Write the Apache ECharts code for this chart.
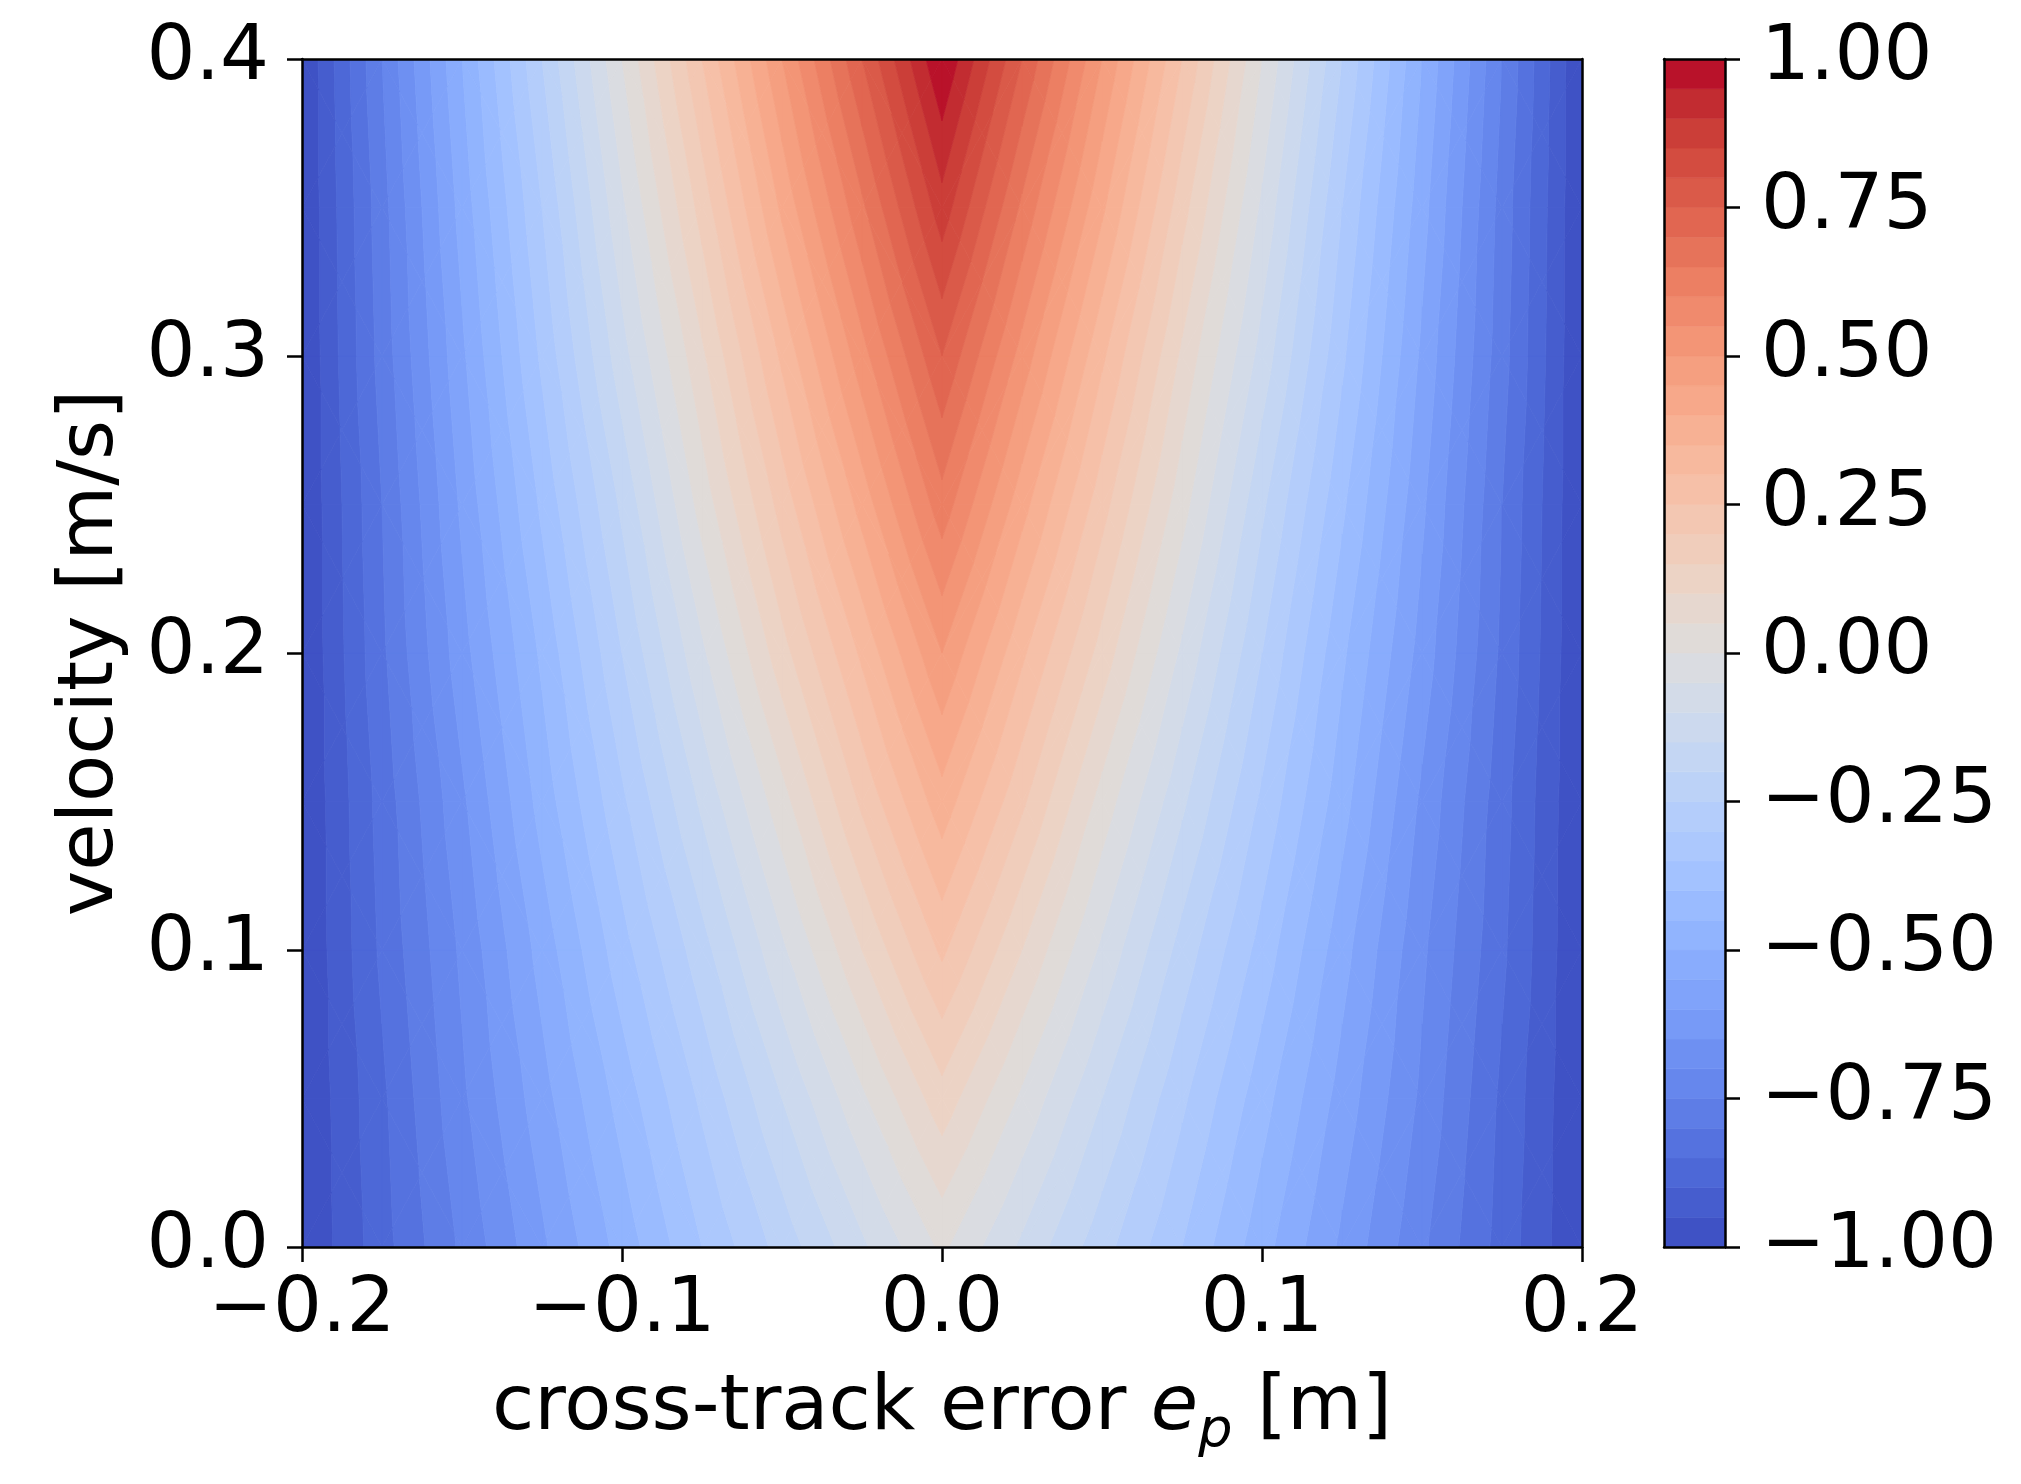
<!DOCTYPE html>
<html><head><meta charset="utf-8">
<script src="https://cdn.jsdelivr.net/npm/echarts@6/dist/echarts.min.js"></script>
<style>html,body{margin:0;padding:0;background:#fff}#c{width:2021px;height:1484px}</style>
</head><body><div id="c"></div>
<script>
// ---- data ----
const eValues = [-0.2,-0.175,-0.15,-0.125,-0.1,-0.075,-0.05,-0.025,0,0.025,0.05,0.075,0.1,0.125,0.15,0.175,0.2];
const vValues = [0, 0.05, 0.1, 0.15, 0.2, 0.25, 0.3, 0.35, 0.4];
const zRowV000 = [-1.00,-0.87,-0.74,-0.61,-0.48,-0.35,-0.23,-0.11,0.01,-0.11,-0.23,-0.35,-0.48,-0.61,-0.74,-0.87,-1.00];
const zRowV005 = [-1.00,-0.86,-0.71,-0.57,-0.43,-0.29,-0.15,-0.01,0.13,-0.01,-0.15,-0.29,-0.43,-0.57,-0.71,-0.86,-1.00];
const zRowV010 = [-1.00,-0.84,-0.69,-0.53,-0.37,-0.22,-0.06,0.10,0.26,0.10,-0.06,-0.22,-0.37,-0.53,-0.69,-0.84,-1.00];
const zRowV015 = [-1.00,-0.83,-0.66,-0.48,-0.31,-0.14,0.03,0.21,0.38,0.21,0.03,-0.14,-0.31,-0.48,-0.66,-0.83,-1.00];
const zRowV020 = [-1.00,-0.81,-0.62,-0.44,-0.25,-0.06,0.13,0.31,0.50,0.31,0.13,-0.06,-0.25,-0.44,-0.62,-0.81,-1.00];
const zRowV025 = [-1.00,-0.80,-0.59,-0.39,-0.19,0.02,0.22,0.42,0.63,0.42,0.22,0.02,-0.19,-0.39,-0.59,-0.80,-1.00];
const zRowV030 = [-1.00,-0.78,-0.56,-0.34,-0.12,0.09,0.31,0.53,0.75,0.53,0.31,0.09,-0.12,-0.34,-0.56,-0.78,-1.00];
const zRowV035 = [-1.00,-0.77,-0.53,-0.30,-0.06,0.17,0.41,0.64,0.88,0.64,0.41,0.17,-0.06,-0.30,-0.53,-0.77,-1.00];
const zRowV040 = [-1.00,-0.75,-0.50,-0.25,0.00,0.25,0.50,0.75,1.00,0.75,0.50,0.25,0.00,-0.25,-0.50,-0.75,-1.00];
const zGrid = [zRowV000,zRowV005,zRowV010,zRowV015,zRowV020,zRowV025,zRowV030,zRowV035,zRowV040];
const contourLevels = [-1.00,-0.95,-0.90,-0.85,-0.80,-0.75,-0.70,-0.65,-0.60,-0.55,-0.50,-0.45,-0.40,-0.35,-0.30,-0.25,-0.20,-0.15,-0.10,-0.05,0.00,
  0.05,0.10,0.15,0.20,0.25,0.30,0.35,0.40,0.45,0.50,0.55,0.60,0.65,0.70,0.75,0.80,0.85,0.90,0.95,1.00];
const xTicks = [-0.2,-0.1,0.0,0.1,0.2];
const yTicks = [0.0,0.1,0.2,0.3,0.4];
const cbTicks = [-1.00,-0.75,-0.50,-0.25,0.00,0.25,0.50,0.75,1.00];

// ---- style: coolwarm colormap anchors ----
const COOLWARM = [[59,76,192],[68,90,204],[77,104,215],[87,117,225],[98,130,234],[108,142,241],[119,154,247],[130,165,251],
 [141,176,254],[152,185,255],[163,194,255],[174,201,253],[184,208,249],[194,213,244],[204,217,238],[213,219,230],[221,221,221],
 [229,216,209],[236,211,197],[241,204,185],[245,196,173],[247,187,160],[247,177,148],[247,166,135],[244,154,123],[241,141,111],
 [236,127,99],[229,112,88],[222,96,77],[213,80,66],[203,62,56],[192,40,47],[180,4,38]];
function cmap(t){
  t=Math.max(0,Math.min(1,t));
  const f=t*(COOLWARM.length-1), i=Math.min(Math.floor(f),COOLWARM.length-2), u=f-i;
  const a=COOLWARM[i], b=COOLWARM[i+1];
  return 'rgb('+[0,1,2].map(k=>Math.round(a[k]+(b[k]-a[k])*u)).join(',')+')';
}
const zMin = contourLevels[0], zMax = contourLevels[contourLevels.length-1];
const bandColors = contourLevels.slice(0,-1).map((lo,k)=>cmap(((lo+contourLevels[k+1])/2 - zMin)/(zMax-zMin)));

// ---- filled contour geometry (marching triangles on the read grid) ----
function clip(poly, level, keepAbove){
  const out=[];
  for(let i=0;i<poly.length;i++){
    const p=poly[i], q=poly[(i+1)%poly.length];
    const pin = keepAbove ? p[2]>=level : p[2]<=level;
    const qin = keepAbove ? q[2]>=level : q[2]<=level;
    if(pin) out.push(p);
    if(pin!==qin){
      const t=(level-p[2])/(q[2]-p[2]);
      out.push([p[0]+t*(q[0]-p[0]), p[1]+t*(q[1]-p[1]), level]);
    }
  }
  return out;
}
const cellData=[], cellPolys=[];
for(let j=0;j<vValues.length-1;j++){
  for(let i=0;i<eValues.length-1;i++){
    const P=(ii,jj)=>[eValues[ii],vValues[jj],zGrid[jj][ii]];
    const a=P(i,j), b=P(i+1,j), c=P(i+1,j+1), d=P(i,j+1);
    const m=[(a[0]+b[0])/2,(a[1]+d[1])/2,(a[2]+b[2]+c[2]+d[2])/4];
    const polys=[];
    [[a,b,m],[b,c,m],[c,d,m],[d,a,m]].forEach(t=>{
      const zl=Math.min(t[0][2],t[1][2],t[2][2]), zh=Math.max(t[0][2],t[1][2],t[2][2]);
      for(let k=0;k<contourLevels.length-1;k++){
        const lo=contourLevels[k], hi=contourLevels[k+1];
        if(hi<zl||lo>zh) continue;
        let p=clip(t,lo,true); if(p.length<3) continue;
        p=clip(p,hi,false); if(p.length<3) continue;
        polys.push({k:k,pts:p});
      }
    });
    cellData.push([eValues[i],vValues[j]]);
    cellPolys.push(polys);
  }
}

const FONT='DejaVu Sans';
const fmt=(d)=>v=>{const x=Math.abs(v)<1e-9?0:v; return x.toFixed(d).replace('-','\u2212');};
const lineStyle={color:'#000',width:2.5};
const chart=echarts.init(document.getElementById('c'),null,{renderer:'canvas'});
chart.setOption({
  animation:false,
  backgroundColor:'#fff',
  grid:[
    {left:302,top:59,width:1280,height:1188,show:false},
    {left:1664,top:59,width:61,height:1188,show:false}
  ],
  xAxis:[
    {gridIndex:0,type:'value',position:'bottom',min:xTicks[0],max:xTicks[xTicks.length-1],interval:xTicks[1]-xTicks[0],z:10,
     axisLine:{show:true,onZero:false,lineStyle:lineStyle},axisTick:{show:true,length:15,lineStyle:lineStyle},
     splitLine:{show:false},
     axisLabel:{fontSize:77,fontFamily:FONT,color:'#000',margin:25,formatter:fmt(1),showMinLabel:true,showMaxLabel:true},
     name:'{a|cross-track error }{b|e}{c|p}{a| [m]}',nameLocation:'middle',nameGap:112,
     nameTextStyle:{fontSize:77,fontFamily:FONT,color:'#000',
       rich:{a:{fontSize:77,fontFamily:FONT,color:'#000',lineHeight:100},
             b:{fontSize:77,fontFamily:FONT,fontStyle:'italic',color:'#000',lineHeight:100},
             c:{fontSize:54,fontFamily:FONT,fontStyle:'italic',color:'#000',verticalAlign:'bottom',lineHeight:100}}}},
    {gridIndex:0,type:'value',position:'top',min:xTicks[0],max:xTicks[xTicks.length-1],z:10,
     axisLine:{show:true,onZero:false,lineStyle:lineStyle},axisTick:{show:false},axisLabel:{show:false},splitLine:{show:false}},
    {gridIndex:1,type:'value',position:'bottom',min:0,max:1,z:10,
     axisLine:{show:true,onZero:false,lineStyle:lineStyle},axisTick:{show:false},axisLabel:{show:false},splitLine:{show:false}},
    {gridIndex:1,type:'value',position:'top',min:0,max:1,z:10,
     axisLine:{show:true,onZero:false,lineStyle:lineStyle},axisTick:{show:false},axisLabel:{show:false},splitLine:{show:false}}
  ],
  yAxis:[
    {gridIndex:0,type:'value',position:'left',min:yTicks[0],max:yTicks[yTicks.length-1],interval:yTicks[1]-yTicks[0],z:10,
     axisLine:{show:true,onZero:false,lineStyle:lineStyle},axisTick:{show:true,length:15,lineStyle:lineStyle},
     splitLine:{show:false},
     axisLabel:{fontSize:77,fontFamily:FONT,color:'#000',margin:33,formatter:fmt(1),showMinLabel:true,showMaxLabel:true},
     name:'velocity [m/s]',nameLocation:'middle',nameRotate:90,nameGap:172,
     nameTextStyle:{fontSize:77,fontFamily:FONT,color:'#000'}},
    {gridIndex:0,type:'value',position:'right',min:yTicks[0],max:yTicks[yTicks.length-1],z:10,
     axisLine:{show:true,onZero:false,lineStyle:lineStyle},axisTick:{show:false},axisLabel:{show:false},splitLine:{show:false}},
    {gridIndex:1,type:'value',position:'right',min:cbTicks[0],max:cbTicks[cbTicks.length-1],interval:cbTicks[1]-cbTicks[0],z:10,
     axisLine:{show:true,onZero:false,lineStyle:lineStyle},axisTick:{show:true,length:15,lineStyle:lineStyle},
     splitLine:{show:false},
     axisLabel:{fontSize:77,fontFamily:FONT,color:'#000',margin:36,formatter:fmt(2),showMinLabel:true,showMaxLabel:true}},
    {gridIndex:1,type:'value',position:'left',min:cbTicks[0],max:cbTicks[cbTicks.length-1],z:10,
     axisLine:{show:true,onZero:false,lineStyle:lineStyle},axisTick:{show:false},axisLabel:{show:false},splitLine:{show:false}}
  ],
  series:[
    {type:'custom',xAxisIndex:0,yAxisIndex:0,clip:true,silent:true,data:cellData,
     renderItem:function(params,api){
       const polys=cellPolys[params.dataIndex];
       return {type:'group',children:polys.map(p=>({
         type:'polygon',
         shape:{points:p.pts.map(q=>api.coord([q[0],q[1]]))},
         style:{fill:bandColors[p.k],stroke:bandColors[p.k],lineWidth:0.8}
       }))};
     }},
    {type:'custom',xAxisIndex:2,yAxisIndex:2,clip:true,silent:true,
     data:contourLevels.slice(0,-1).map((lo,k)=>[0.5,lo]),
     renderItem:function(params,api){
       const k=params.dataIndex;
       const p1=api.coord([0,contourLevels[k+1]]), p2=api.coord([1,contourLevels[k]]);
       return {type:'rect',shape:{x:p1[0],y:p1[1],width:p2[0]-p1[0],height:p2[1]-p1[1]},
         style:{fill:bandColors[k],stroke:bandColors[k],lineWidth:0.6}};
     }}
  ]
});
</script></body></html>
